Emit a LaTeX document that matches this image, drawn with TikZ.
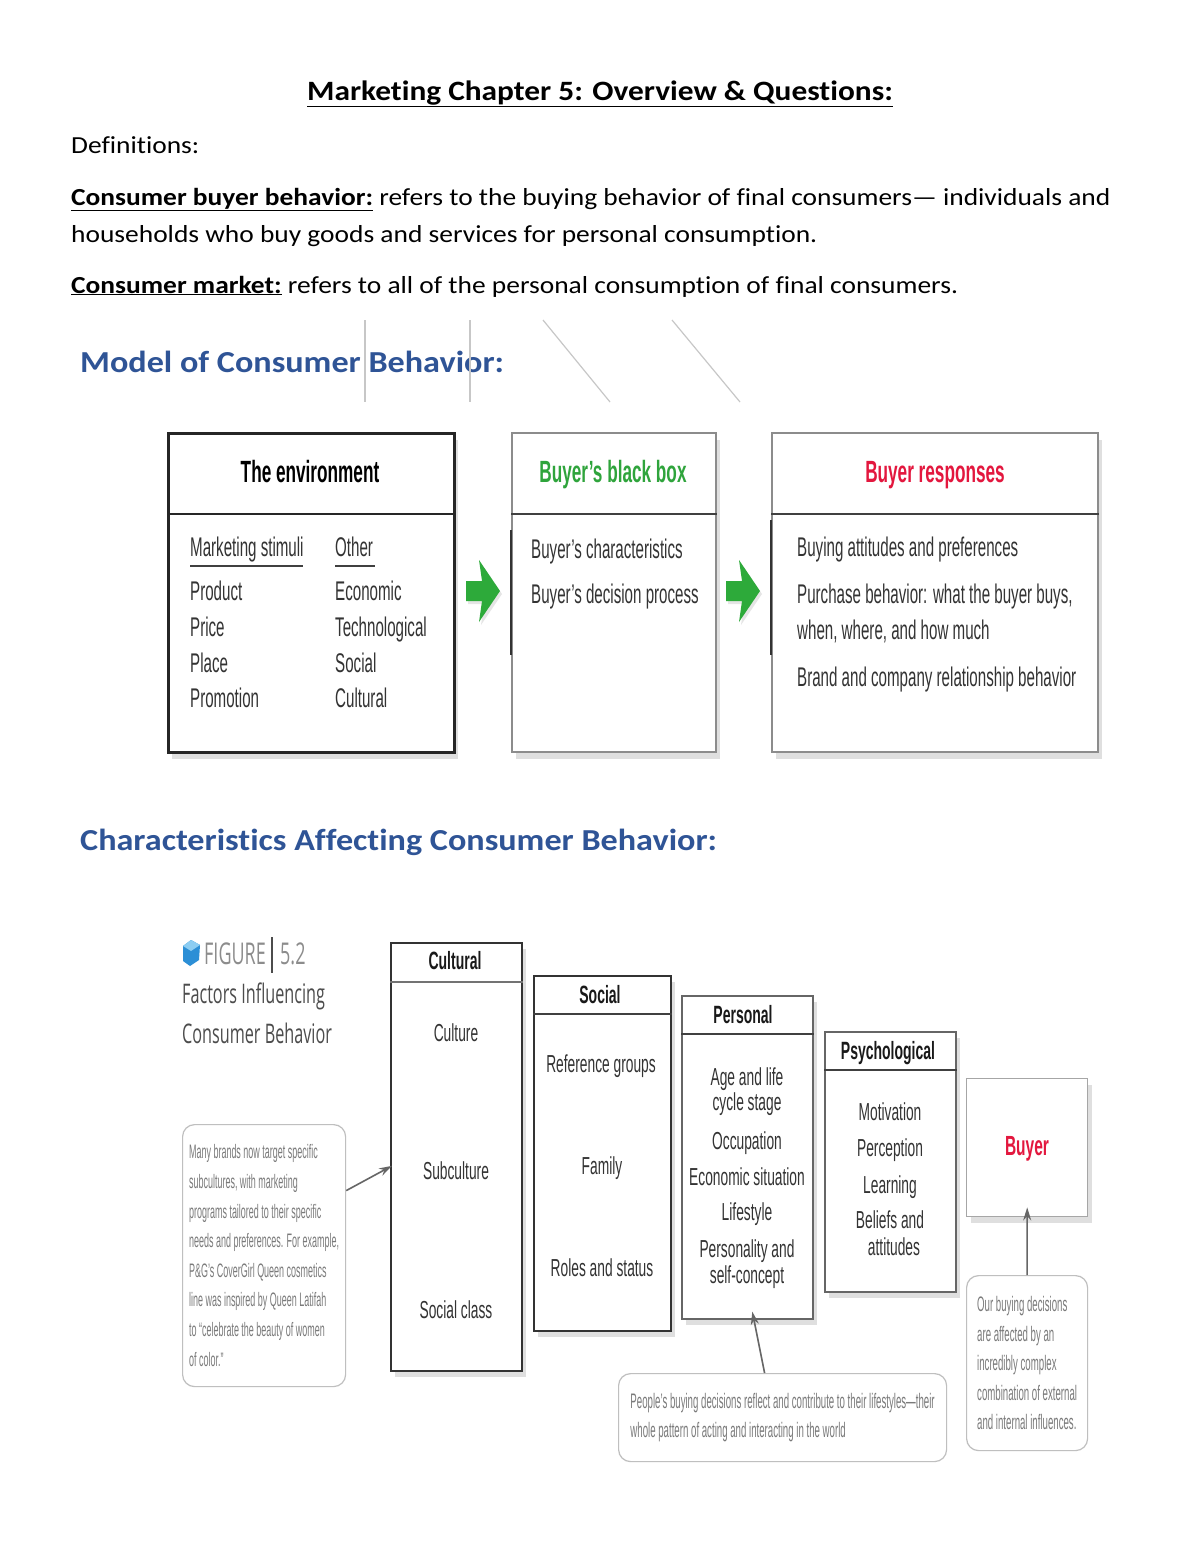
\documentclass[tikz,border=0pt]{standalone}
\usepackage{fontspec}
\setmainfont{Carlito}[Ligatures={NoCommon,TeX},FakeStretch=1.12]
\newfontfamily\figfont[FakeStretch=0.56]{Liberation Sans}
\newfontfamily\notefont[FakeStretch=0.46]{Liberation Sans}
\newfontfamily\titlefont[FakeStretch=0.6]{Open Sans}
\usetikzlibrary{shadows,arrows.meta}
\definecolor{headblue}{HTML}{2F5496}
\definecolor{arrowgreen}{HTML}{2DAA3A}
\definecolor{bbgreen}{HTML}{2FA43C}
\definecolor{respred}{HTML}{E3173E}
\definecolor{notegray}{HTML}{7A7A7A}
\definecolor{iconblue}{HTML}{2C8FD6}
\definecolor{iconlight}{HTML}{8CCDF2}
\tikzset{
  body/.style={anchor=base west, inner sep=0pt, font=\fontsize{24.5}{28}\selectfont},
  heading/.style={anchor=base west, inner sep=0pt, text=headblue, font=\bfseries\fontsize{30.5}{34}\selectfont},
  mboxA/.style={draw=black!85, line width=2.5pt, fill=white, anchor=north west, inner sep=0pt,
    drop shadow={shadow xshift=4pt, shadow yshift=-7pt, opacity=0.25}},
  mboxB/.style={draw=black!45, line width=1.5pt, fill=white, anchor=north west, inner sep=0pt,
    drop shadow={shadow xshift=4pt, shadow yshift=-7pt, opacity=0.25}},
  mhdr/.style={anchor=base, inner sep=0pt, font=\figfont\bfseries\fontsize{30.7}{34}\selectfont},
  mitem/.style={anchor=base west, inner sep=0pt, text=black!80, font=\figfont\fontsize{27}{30}\selectfont},
  fbox/.style={draw=black!80, line width=1.6pt, fill=white, anchor=north west, inner sep=0pt,
    drop shadow={shadow xshift=4pt, shadow yshift=-6pt, opacity=0.25}},
  fhdr/.style={anchor=base, inner sep=0pt, text=black!90, font=\figfont\bfseries\fontsize{25}{28}\selectfont},
  fitem/.style={anchor=base, inner sep=0pt, text=black!80, font=\figfont\fontsize{24.6}{28}\selectfont},
  notebox/.style={draw=black!25, line width=1.2pt, rounded corners=12pt, fill=white, anchor=north west,
    align=left, inner sep=0pt, text=notegray, font=\notefont\fontsize{21}{29.6}\selectfont},
  gar/.style={draw=black!60, line width=1.6pt, -{Stealth[length=13pt,width=8pt]}},
  stray/.style={draw=black!22, line width=1.2pt}
}
\begin{document}
\begin{tikzpicture}[x=1pt,y=-1pt]
\useasboundingbox (0,0) rectangle (1200,1553);
\fill[white] (0,0) rectangle (1200,1553);

% ---------- top text ----------
\node[anchor=base, inner sep=0pt, font=\bfseries\fontsize{28}{30}\selectfont] (title) at (600,100)
  {\underline{Marketing Chapter 5: Overview \& Questions:}};
\node[body] (defs) at (71,153) {Definitions:};
\node[body] (cbb1) at (71,205) {\underline{\textbf{Consumer buyer behavior:}} refers to the buying behavior of final consumers— individuals and};
\node[body] (cbb2) at (71,242) {households who buy goods and services for personal consumption.};
\node[body] (cm) at (71,293) {\underline{\textbf{Consumer market:}} refers to all of the personal consumption of final consumers.};

% ---------- model heading ----------
\node[heading] (mh) at (80,372) {Model of Consumer Behavior:};
\draw[stray] (365,320) -- (365,402);
\draw[stray] (470,320) -- (470,402);
\draw[stray] (543,320) -- (610,402);
\draw[stray] (672,320) -- (740,402);

% ---------- model boxes ----------
\node[mboxA, minimum width=286pt, minimum height=319pt] (env) at (167,432) {};
\node[mboxB, minimum width=204pt, minimum height=319pt] (bbox) at (511,432) {};
\node[mboxB, minimum width=326pt, minimum height=319pt] (resp) at (771,432) {};
\draw[black!85, line width=2pt] ([yshift=-82pt]env.north west) -- ([yshift=-82pt]env.north east);
\draw[black!75, line width=2pt] ([yshift=-82pt]bbox.north west) -- ([yshift=-82pt]bbox.north east);
\draw[black!75, line width=2pt] ([yshift=-82pt]resp.north west) -- ([yshift=-82pt]resp.north east);
\draw[black!80, line width=1.5pt] ([yshift=-98pt]bbox.north west) -- ([yshift=-223pt]bbox.north west);
\draw[black!80, line width=1.5pt] ([yshift=-88pt]resp.north west) -- ([yshift=-223pt]resp.north west);

\node[mhdr] (envh) at (310,482) {The environment};
\node[mhdr, text=bbgreen] (bbh) at (613,482) {Buyer’s black box};
\node[mhdr, text=respred] (resph) at (935,482) {Buyer responses};

\node[mitem] (ms) at (190,556) {Marketing stimuli};
\node[mitem] (ot) at (335,556) {Other};
\draw[black!75, line width=1.5pt] (190,566) -- (303,566);
\draw[black!75, line width=1.5pt] (335,566) -- (375,566);
\node[mitem] (p1) at (190,600) {Product};
\node[mitem] (p2) at (190,636) {Price};
\node[mitem] (p3) at (190,672) {Place};
\node[mitem] (p4) at (190,707) {Promotion};
\node[mitem] (o1) at (335,600) {Economic};
\node[mitem] (o2) at (335,636) {Technological};
\node[mitem] (o3) at (335,672) {Social};
\node[mitem] (o4) at (335,707) {Cultural};

\node[mitem] (b1) at (531,558) {Buyer’s characteristics};
\node[mitem] (b2) at (531,603) {Buyer’s decision process};

\node[mitem] (r1) at (797,556) {Buying attitudes and preferences};
\node[mitem] (r2) at (797,603) {Purchase behavior: what the buyer buys,};
\node[mitem] (r3) at (797,639) {when, where, and how much};
\node[mitem] (r4) at (797,686) {Brand and company relationship behavior};

% green arrows
\fill[arrowgreen, drop shadow={shadow xshift=2pt, shadow yshift=-3pt, opacity=0.2}]
  (466,581) -- (482,581) -- (479,560) -- (500,591) -- (479,622) -- (482,601) -- (466,601) -- cycle;
\fill[arrowgreen, drop shadow={shadow xshift=2pt, shadow yshift=-3pt, opacity=0.2}]
  (726,581) -- (742,581) -- (739,560) -- (760,591) -- (739,622) -- (742,601) -- (726,601) -- cycle;

% ---------- characteristics heading ----------
\node[heading] (ch) at (80,850) {Characteristics Affecting Consumer Behavior:};

% figure label
\fill[iconblue] (191,940) -- (200,945) -- (199,960) -- (190,966) -- (183,961) -- (183,946) -- cycle;
\fill[iconlight] (191,940) -- (200,945) -- (191,951) -- (183,946) -- cycle;
\node[anchor=base west, inner sep=0pt, text=black!45, font=\titlefont\fontsize{30}{34}\selectfont] (fig) at (204,964) {FIGURE};
\draw[black!70, line width=1.5pt] (272,937) -- (272,973);
\node[anchor=base west, inner sep=0pt, text=black!45, font=\titlefont\fontsize{30}{34}\selectfont] (fignum) at (280,964) {5.2};
\node[anchor=base west, inner sep=0pt, text=black!70, font=\titlefont\fontsize{27}{30}\selectfont] (ft1) at (182,1003) {Factors Influencing};
\node[anchor=base west, inner sep=0pt, text=black!70, font=\titlefont\fontsize{27}{30}\selectfont] (ft2) at (182,1043) {Consumer Behavior};

% figure boxes
\node[fbox, minimum width=131pt, minimum height=428pt] (cult) at (390,942) {};
\node[fbox, minimum width=137pt, minimum height=355pt] (soc) at (533,975) {};
\node[fbox, draw=black!60, minimum width=131pt, minimum height=323pt] (pers) at (681,995) {};
\node[fbox, draw=black!60, minimum width=131pt, minimum height=260pt] (psych) at (824,1031) {};
\node[fbox, draw=black!35, line width=1.4pt, minimum width=121pt, minimum height=138pt] (buyer) at (966,1078) {};
\draw[black!55, line width=2pt] ([yshift=-40pt]cult.north west) -- ([yshift=-40pt]cult.north east);
\draw[black!75, line width=1.6pt] ([yshift=-39pt]soc.north west) -- ([yshift=-39pt]soc.north east);
\draw[black!75, line width=1.6pt] ([yshift=-39pt]pers.north west) -- ([yshift=-39pt]pers.north east);
\draw[black!75, line width=1.6pt] ([yshift=-39pt]psych.north west) -- ([yshift=-39pt]psych.north east);

\node[fhdr] (culth) at (455,969) {Cultural};
\node[fhdr] (soch) at (600,1003) {Social};
\node[fhdr] (persh) at (743,1023) {Personal};
\node[fhdr] (psychh) at (888,1059) {Psychological};
\node[fhdr, text=respred, font=\figfont\bfseries\fontsize{27.7}{30}\selectfont] (buyerh) at (1027,1155) {Buyer};

\node[fitem] (c1) at (456,1041) {Culture};
\node[fitem] (c2) at (456,1179) {Subculture};
\node[fitem] (c3) at (456,1318) {Social class};

\node[fitem] (s1) at (601,1072) {Reference groups};
\node[fitem] (s2) at (602,1174) {Family};
\node[fitem] (s3) at (602,1276) {Roles and status};

\node[fitem] (e1) at (747,1085) {Age and life};
\node[fitem] (e2) at (747,1110) {cycle stage};
\node[fitem] (e3) at (747,1149) {Occupation};
\node[fitem] (e4) at (747,1185) {Economic situation};
\node[fitem] (e5) at (747,1220) {Lifestyle};
\node[fitem] (e6) at (747,1257) {Personality and};
\node[fitem] (e7) at (747,1283) {self-concept};

\node[fitem] (y1) at (890,1120) {Motivation};
\node[fitem] (y2) at (890,1156) {Perception};
\node[fitem] (y3) at (890,1193) {Learning};
\node[fitem] (y4) at (890,1228) {Beliefs and};
\node[fitem] (y5) at (894,1255) {attitudes};

% notes
\node[notebox, minimum width=163pt, minimum height=262pt, font=\notefont\fontsize{19.5}{29.6}\selectfont] (note1) at (182,1124)
  {Many brands now target specific\\subcultures, with marketing\\programs tailored to their specific\\needs and preferences. For example,\\P\&G’s CoverGirl Queen cosmetics\\line was inspired by Queen Latifah\\to “celebrate the beauty of women\\of color.”};
\node[notebox, minimum width=328pt, minimum height=88pt] (note2) at (618,1373)
  {People’s buying decisions reflect and contribute to their lifestyles—their\\whole pattern of acting and interacting in the world};
\node[notebox, minimum width=121pt, minimum height=175pt] (note3) at (966,1275)
  {Our buying decisions\\are affected by an\\incredibly complex\\combination of external\\and internal influences.};

% connectors
\draw[gar] ([yshift=65pt]note1.east) -- ([xshift=2pt,yshift=-9pt]cult.west);
\draw[gar] ([xshift=-18pt]note2.north) -- ([xshift=5pt,yshift=8pt]pers.south);
\draw[gar] (note3.north) -- ([yshift=10pt]buyer.south);
\end{tikzpicture}
\end{document}
